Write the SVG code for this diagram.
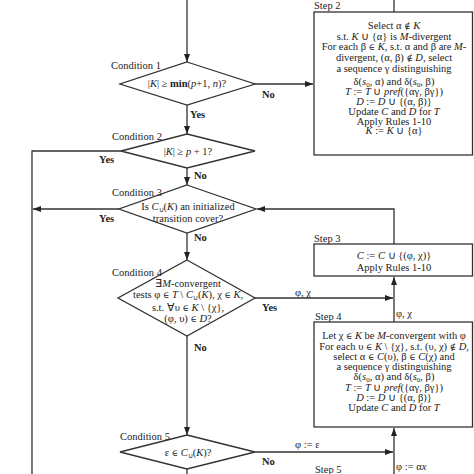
<svg xmlns="http://www.w3.org/2000/svg" width="474" height="474" viewBox="0 0 474 474">
<style>
text{font-family:"Liberation Serif","Times New Roman",serif;font-size:10.5px;fill:#222}
.c{text-anchor:middle}
.b{font-weight:bold}
.i{font-style:italic}
.s{font-size:7px}
.m{font-family:"DejaVu Serif",serif;font-size:8.5px}
.shape{fill:#fff;stroke:#333;stroke-width:1.3}
.ln{fill:none;stroke:#333;stroke-width:1.3}
</style>
<defs>
<marker id="ah" markerUnits="userSpaceOnUse" markerWidth="9" markerHeight="7" refX="8" refY="3" orient="auto">
<path d="M0,0 L8,3 L0,6 z" fill="#222"/>
</marker>
</defs>
<rect width="474" height="474" fill="#fff"/>

<g id="connectors">
<line class="ln" x1="187" y1="0" x2="187" y2="62" marker-end="url(#ah)"/>
<line class="ln" x1="394" y1="0" x2="394" y2="12"/>
<line class="ln" x1="255" y1="84" x2="313" y2="84" marker-end="url(#ah)"/>
<line class="ln" x1="187" y1="105" x2="187" y2="134" marker-end="url(#ah)"/>
<polyline class="ln" points="121,151 32,151 32,474"/>
<line class="ln" x1="187" y1="168" x2="187" y2="185" marker-end="url(#ah)"/>
<line class="ln" x1="119" y1="209" x2="33" y2="209" marker-end="url(#ah)"/>
<polyline class="ln" points="394,244 394,209 257,209" marker-end="url(#ah)"/>
<line class="ln" x1="187" y1="233" x2="187" y2="260" marker-end="url(#ah)"/>
<line class="ln" x1="255" y1="298" x2="393" y2="298" marker-end="url(#ah)"/>
<line class="ln" x1="394" y1="322" x2="394" y2="277" marker-end="url(#ah)"/>
<line class="ln" x1="187" y1="336" x2="187" y2="435" marker-end="url(#ah)"/>
<line class="ln" x1="255" y1="452" x2="393" y2="452" marker-end="url(#ah)"/>
<line class="ln" x1="394" y1="474" x2="394" y2="428" marker-end="url(#ah)"/>
<line class="ln" x1="187" y1="469" x2="187" y2="474"/>
<text class="b" x="262" y="98">No</text>
<text class="b" x="190" y="118">Yes</text>
<text class="b" x="99" y="163">Yes</text>
<text class="b" x="194" y="179">No</text>
<text class="b" x="99" y="222">Yes</text>
<text class="b" x="194" y="241">No</text>
<text class="b" x="262" y="311">Yes</text>
<text class="b" x="194" y="351">No</text>
<text class="b" x="262" y="465">No</text>
<text x="295" y="296">φ, χ</text>
<text x="396" y="317">φ, χ</text>
<text x="295" y="448">φ := ε</text>
<text x="396" y="470">φ := α<tspan class="i">x</tspan></text>
</g>

<g id="cond1">
<polygon class="shape" points="187,62 255,84 187,105 120,84"/>
<text x="111" y="69">Condition  1</text>
<text class="c" x="187" y="87">|<tspan class="i">K</tspan>| ≥ <tspan class="b">min</tspan>(<tspan class="i">p</tspan>+1, <tspan class="i">n</tspan>)?</text>
</g>

<g id="step2">
<rect class="shape" x="314" y="12" width="158.5" height="143"/>
<text x="314" y="9">Step 2</text>
<text class="c" x="394" y="29">Select α <tspan class="m">∉</tspan> <tspan class="i">K</tspan></text>
<text class="c" x="394" y="40">s.t. <tspan class="i">K</tspan> ∪ {α} is <tspan class="i">M</tspan>-divergent</text>
<text class="c" x="394" y="50">For each β <tspan class="m">∈</tspan> <tspan class="i">K</tspan>, s.t. α and β are <tspan class="i">M</tspan>-</text>
<text class="c" x="394" y="61">divergent, (α, β) <tspan class="m">∉</tspan> <tspan class="i">D</tspan>, select</text>
<text class="c" x="394" y="72">a sequence γ distinguishing</text>
<text class="c" x="394" y="85">δ(<tspan class="i">s</tspan><tspan class="s" dy="2">0</tspan><tspan dy="-2">, α) and δ(</tspan><tspan class="i">s</tspan><tspan class="s" dy="2">0</tspan><tspan dy="-2">, β)</tspan></text>
<text class="c" x="394" y="95"><tspan class="i">T</tspan> := <tspan class="i">T</tspan> ∪ <tspan class="i">pref</tspan>({αγ, βγ})</text>
<text class="c" x="394" y="105"><tspan class="i">D</tspan> := <tspan class="i">D</tspan> ∪ {(α, β)}</text>
<text class="c" x="394" y="115">Update <tspan class="i">C</tspan> and <tspan class="i">D</tspan> for <tspan class="i">T</tspan></text>
<text class="c" x="394" y="125">Apply Rules 1-10</text>
<text class="c" x="394" y="134"><tspan class="i">K</tspan> := <tspan class="i">K</tspan> ∪ {α}</text>
</g>

<g id="cond2">
<polygon class="shape" points="187,134 255,151 187,168 121,151"/>
<text x="112" y="140">Condition  2</text>
<text class="c" x="188" y="155">|<tspan class="i">K</tspan>| ≥ <tspan class="i">p</tspan> + 1?</text>
</g>

<g id="cond3">
<polygon class="shape" points="187,185 256,209 187,233 119,209"/>
<text x="112" y="196">Condition 3</text>
<text class="c" x="188" y="210">Is <tspan class="i">C</tspan><tspan class="s" dy="2">∪</tspan><tspan dy="-2">(</tspan><tspan class="i">K</tspan>) an initialized</text>
<text class="c" x="188" y="222">transition cover?</text>
</g>

<g id="step3">
<rect class="shape" x="314" y="244" width="158.5" height="32"/>
<text x="314" y="242">Step 3</text>
<text class="c" x="394" y="259"><tspan class="i">C</tspan> := <tspan class="i">C</tspan> ∪ {(φ, χ)}</text>
<text class="c" x="394" y="271">Apply Rules 1-10</text>
</g>

<g id="cond4">
<polygon class="shape" points="187,260 255,298 187,336 118,298"/>
<text x="112" y="276">Condition 4</text>
<text class="c" x="188" y="287">∃<tspan class="i">M</tspan>-convergent</text>
<text class="c" x="188" y="298">tests φ <tspan class="m">∈</tspan> <tspan class="i">T</tspan> \ <tspan class="i">C</tspan><tspan class="s" dy="2">∪</tspan><tspan dy="-2">(</tspan><tspan class="i">K</tspan>), χ <tspan class="m">∈</tspan> <tspan class="i">K</tspan>,</text>
<text class="c" x="188" y="311">s.t. ∀υ <tspan class="m">∈</tspan> <tspan class="i">K</tspan> \ {χ},</text>
<text class="c" x="188" y="322">(φ, υ) <tspan class="m">∈</tspan> <tspan class="i">D</tspan>?</text>
</g>

<g id="step4">
<rect class="shape" x="314" y="322" width="158.5" height="105"/>
<text x="315" y="320">Step 4</text>
<text class="c" x="394" y="339">Let χ <tspan class="m">∈</tspan> <tspan class="i">K</tspan> be <tspan class="i">M</tspan>-convergent with φ</text>
<text class="c" x="394" y="350">For each υ <tspan class="m">∈</tspan> <tspan class="i">K</tspan> \ {χ}, s.t. (υ, χ) <tspan class="m">∉</tspan> <tspan class="i">D</tspan>,</text>
<text class="c" x="394" y="360">select α <tspan class="m">∈</tspan> <tspan class="i">C</tspan>(υ), β <tspan class="m">∈</tspan> <tspan class="i">C</tspan>(χ) and</text>
<text class="c" x="394" y="370">a sequence γ distinguishing</text>
<text class="c" x="394" y="380">δ(<tspan class="i">s</tspan><tspan class="s" dy="2">0</tspan><tspan dy="-2">, α) and δ(</tspan><tspan class="i">s</tspan><tspan class="s" dy="2">0</tspan><tspan dy="-2">, β)</tspan></text>
<text class="c" x="394" y="391"><tspan class="i">T</tspan> := <tspan class="i">T</tspan> ∪ <tspan class="i">pref</tspan>({αγ, βγ})</text>
<text class="c" x="394" y="401"><tspan class="i">D</tspan> := <tspan class="i">D</tspan> ∪ {(α, β)}</text>
<text class="c" x="394" y="411">Update <tspan class="i">C</tspan> and <tspan class="i">D</tspan> for <tspan class="i">T</tspan></text>
</g>

<g id="cond5">
<polygon class="shape" points="187,435 255,452 187,469 120,452"/>
<text x="120" y="440">Condition 5</text>
<text class="c" x="188" y="456">ε <tspan class="m">∈</tspan> <tspan class="i">C</tspan><tspan class="s" dy="2">∪</tspan><tspan dy="-2">(</tspan><tspan class="i">K</tspan>)?</text>
</g>

<g id="step5">
<text x="315" y="473">Step 5</text>
</g>
</svg>
